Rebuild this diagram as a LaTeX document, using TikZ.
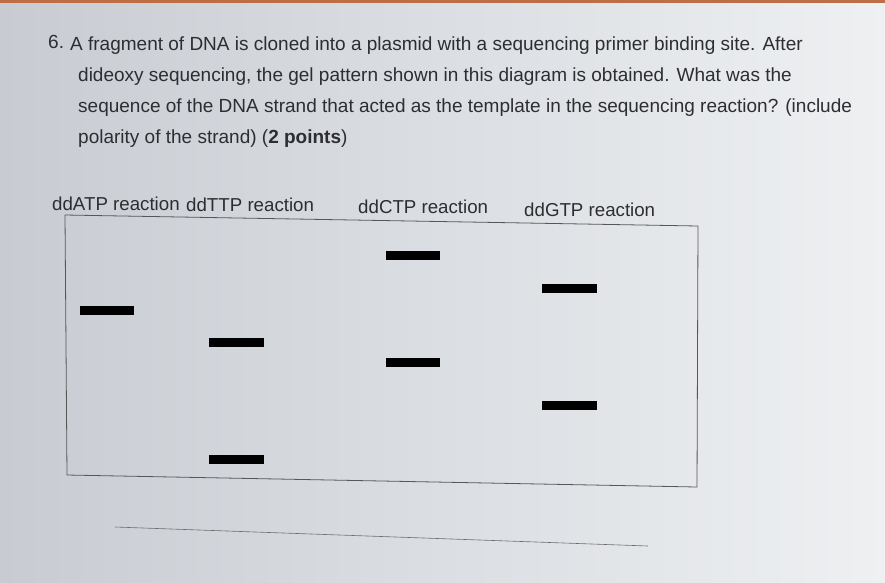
\documentclass[tikz,border=0pt]{standalone}
\usepackage{fontspec}
\setmainfont{Liberation Sans}
\definecolor{bgl}{RGB}{200,204,210}
\definecolor{bgr}{RGB}{238,240,242}
\definecolor{ink}{RGB}{45,45,50}
\definecolor{stripe}{RGB}{190,110,70}
\begin{document}
\begin{tikzpicture}[x=1pt,y=-1pt,
  txt/.style={anchor=base west,inner sep=0,text=ink,font=\fontsize{19}{22}\selectfont},
  lab/.style={anchor=base west,inner sep=0,text=ink,font=\fontsize{18.7}{22}\selectfont},
  band/.style={fill=black,draw=none}]
\shade[left color=bgl,right color=bgr] (0,0) rectangle (885,582);
\useasboundingbox (0,0) rectangle (885,582);
\fill[stripe] (0,0) rectangle (885,3);
\node[txt] (n6) at (48,48) {6.};
\node[txt] (l1) at (70,50) {A fragment of DNA is cloned into a plasmid with a sequencing primer binding site. After};
\node[txt] (l2) at (78,81) {dideoxy sequencing, the gel pattern shown in this diagram is obtained. What was the};
\node[txt] (l3) at (78,112) {sequence of the DNA strand that acted as the template in the sequencing reaction? (include};
\node[txt] (l4) at (78,143) {polarity of the strand) (\textbf{2 points})};
\node[lab] (a) at (52,210) {ddATP reaction};
\node[lab] (t) at (186,211) {ddTTP reaction};
\node[lab] (c) at (358,213) {ddCTP reaction};
\node[lab] (g) at (524,216) {ddGTP reaction};
\draw[ink!80,line width=0.8pt] (65,215) -- (698,226) -- (697,487) -- (67,475) -- cycle;
\fill[band] (80,306) rectangle (134,315);
\fill[band] (209,338) rectangle (264,347);
\fill[band] (209,455) rectangle (264,464);
\fill[band] (386,251) rectangle (440,260);
\fill[band] (386,358) rectangle (440,367);
\fill[band] (542,284) rectangle (597,293);
\fill[band] (542,401) rectangle (597,410);
\coordinate (u1) at (115,527);
\coordinate (u2) at (648,546);
\draw[ink!70,line width=0.6pt] (u1) -- (u2);
\end{tikzpicture}
\end{document}
